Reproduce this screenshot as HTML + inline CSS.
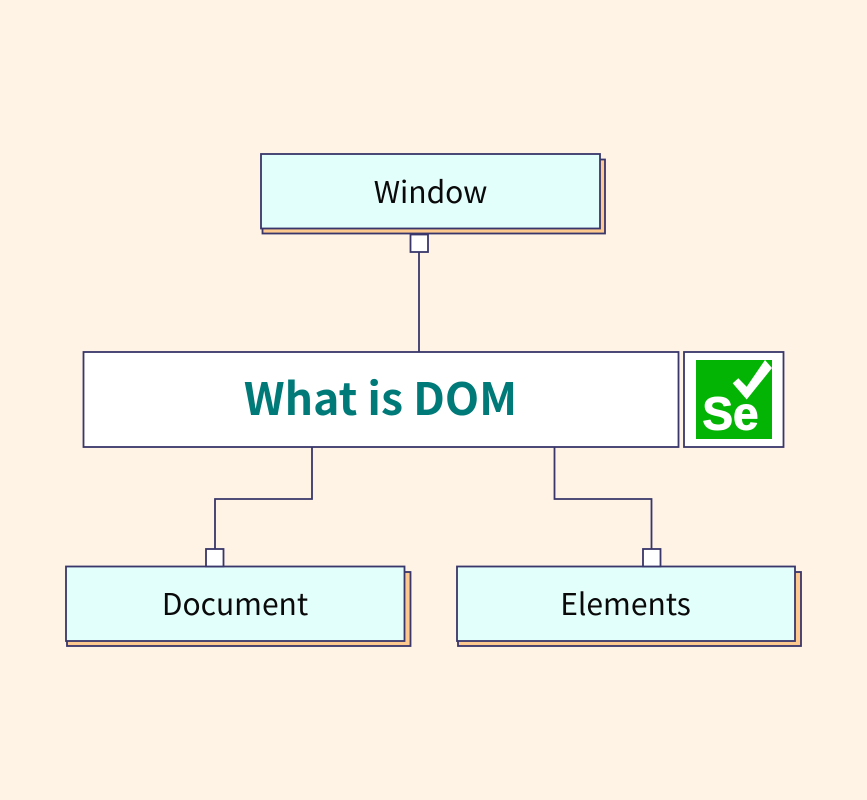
<!DOCTYPE html>
<html>
<head>
<meta charset="utf-8">
<style>
html,body{margin:0;padding:0;background:#fff3e6;}
svg{display:block;}
text{font-family:"Noto Sans CJK JP","Liberation Sans",sans-serif;text-anchor:middle;}
</style>
</head>
<body>
<svg width="867" height="800" viewBox="0 0 867 800" xmlns="http://www.w3.org/2000/svg">
<rect width="867" height="800" fill="#fff3e6"/>
<g fill="none" stroke="#38366a" stroke-width="1.800">
<path d="M419 252V352"/>
<path d="M312 447V499H215V549"/>
<path d="M554.500 447V499H651.500V549"/>
</g>
<g stroke="#38366a" stroke-width="1.800">
<rect x="262.500" y="159.500" width="342.500" height="74" fill="#fdc98f"/>
<rect x="261" y="154" width="339" height="74.500" fill="#e3fffb"/>
<rect x="410.500" y="234.500" width="17.500" height="17.500" fill="#fff"/>
<rect x="83.500" y="352" width="595" height="95" fill="#fff"/>
<rect x="684" y="352" width="99.500" height="95" fill="#fff"/>
<rect x="67" y="572" width="343.500" height="74" fill="#fdc98f"/>
<rect x="66" y="566.500" width="338.500" height="74.500" fill="#e3fffb"/>
<rect x="206" y="549" width="17.500" height="17.500" fill="#fff"/>
<rect x="458" y="572" width="343" height="74" fill="#fdc98f"/>
<rect x="457" y="566.500" width="338" height="74.500" fill="#e3fffb"/>
<rect x="643" y="549" width="17.500" height="17.500" fill="#fff"/>
</g>
<rect x="696" y="360" width="76" height="79" fill="#04b404"/>
<path d="M765 360L772 368L746.700 399.500L732.700 383.300L738.300 378.300L746.700 386.700Z" fill="#fff"/>
<text x="730.500" y="429.500" font-size="46" font-weight="700" fill="#fff" stroke="#fff" stroke-width="1" stroke-linejoin="round" style="font-family:'Liberation Sans',sans-serif">Se</text>
<text x="430.500" y="203" font-size="30" fill="#0a0a0a">Window</text>
<text x="380.500" y="415" font-size="44.500" font-weight="700" fill="#007a78">What is DOM</text>
<text x="235" y="615" font-size="30" fill="#0a0a0a">Document</text>
<text x="625.500" y="615" font-size="30" fill="#0a0a0a">Elements</text>
</svg>
</body>
</html>
